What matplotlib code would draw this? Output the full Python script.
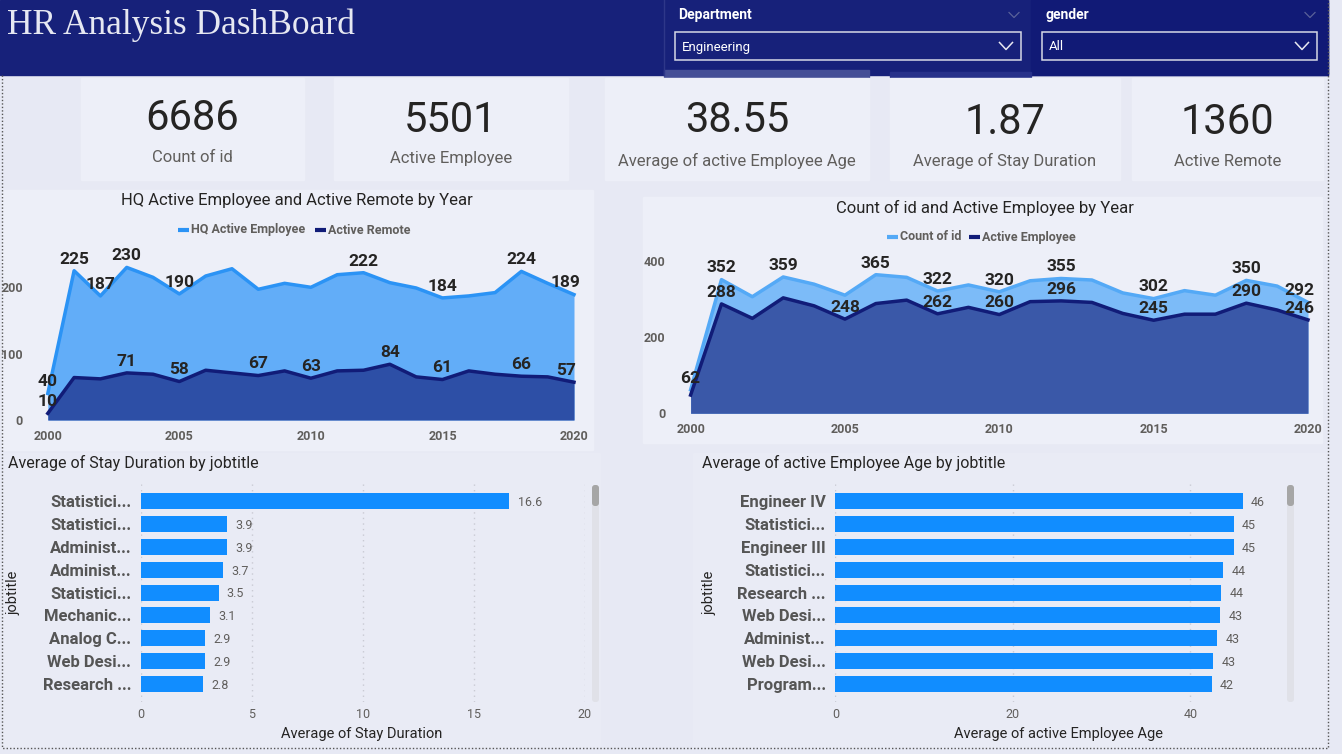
import numpy as np
import matplotlib
matplotlib.use("Agg")
import matplotlib.pyplot as plt
from matplotlib.patches import Rectangle, FancyBboxPatch

plt.rcParams['font.family'] = ['Roboto', 'DejaVu Sans']

# ---- data ----
years = list(range(2000, 2021))
hq_active = [40, 225, 187, 230, 215, 190, 217, 228, 197, 206, 200, 219, 222, 207, 199, 184, 187, 192, 224, 206, 189]
active_remote = [10, 64, 62, 71, 69, 58, 75, 71, 67, 74, 63, 74, 75, 84, 65, 61, 74, 69, 66, 65, 57]
count_id = [62, 352, 307, 359, 340, 311, 365, 358, 322, 338, 320, 349, 355, 351, 317, 302, 323, 311, 350, 335, 292]
active_emp = [48, 288, 250, 304, 283, 248, 289, 298, 262, 279, 260, 294, 296, 292, 263, 245, 261, 261, 290, 272, 246]

hq_label_years = [2000, 2001, 2002, 2003, 2005, 2012, 2015, 2018, 2020]
remote_label_years = [2000, 2003, 2005, 2008, 2010, 2013, 2015, 2018, 2020]
count_label_years = [2000, 2001, 2003, 2006, 2008, 2010, 2012, 2015, 2018, 2020]
active_label_years = [2001, 2005, 2008, 2010, 2012, 2015, 2018, 2020]

stay_titles = ["Statistici...", "Statistici...", "Administ...", "Administ...", "Statistici...",
               "Mechanic...", "Analog C...", "Web Desi...", "Research ..."]
stay_values = [16.6, 3.9, 3.9, 3.7, 3.5, 3.1, 2.9, 2.9, 2.8]

age_titles = ["Engineer IV", "Statistici...", "Engineer III", "Statistici...", "Research ...",
              "Web Desi...", "Administ...", "Web Desi...", "Program..."]
age_values = [45.9, 44.9, 44.9, 43.7, 43.5, 43.4, 43.0, 42.6, 42.4]

kpi_values = ["6686", "5501", "38.55", "1.87", "1360"]
kpi_labels = ["Count of id", "Active Employee", "Average of active Employee Age",
              "Average of Stay Duration", "Active Remote"]

# ---- colours ----
PAGE = '#E7E9F4'
PANEL = '#EDEFF8'
NAVY_BG = '#17217A'
DARK = '#252423'
GREY = '#605E5C'
LIGHT_FILL = '#62ADF8'
LIGHT_LINE = '#2B93F5'
NAVY_FILL = '#2D4FA6'
NAVY_LINE = '#111C78'
BAR = '#118DFF'

W, H = 1342, 754
fig = plt.figure(figsize=(W / 100, H / 100), dpi=100)
fig.patch.set_facecolor(PAGE)


def px_axes(x0, y0, x1, y1):
    return fig.add_axes([x0 / W, 1 - y1 / H, (x1 - x0) / W, (y1 - y0) / H])


bg = fig.add_axes([0, 0, 1, 1], zorder=-5)
bg.set_xlim(0, W)
bg.set_ylim(H, 0)
bg.axis('off')

# header
bg.add_patch(Rectangle((0, 0), 1328, 75, color=NAVY_BG))
bg.add_patch(Rectangle((1031, 0), 297, 75, color='#111A76'))
bg.plot([664, 664], [0, 75], color='#2E3789', lw=1)
bg.add_patch(Rectangle((664, 70), 205, 7, color='#444E96'))
bg.add_patch(Rectangle((890, 72), 141, 5, color='#27318A'))
bg.text(7, 25, "HR Analysis DashBoard", family=['Liberation Serif', 'DejaVu Serif'],
        fontsize=25.5, color='#E6E8F2', va='center', ha='left')


def chevron(x, y, w, h, color, lw):
    bg.plot([x - w / 2, x, x + w / 2], [y - h / 2, y + h / 2, y - h / 2], color=color, lw=lw)


for name, x0, box_w, val in [("Department", 675, 346, "Engineering"), ("gender", 1042, 275, "All")]:
    bg.text(x0 + 3, 15, name, color='white', fontsize=10, fontweight='bold', va='center')
    chevron(x0 + box_w - 7, 15, 10, 5, '#5A6199', 0.9)
    bg.add_patch(Rectangle((x0, 32), box_w, 28, fill=False, edgecolor='#D6D8E6', lw=1.1))
    bg.text(x0 + 7, 47, val, color='white', fontsize=9.5, va='center')
    chevron(x0 + box_w - 15, 46, 13, 7, '#E8E8F0', 1.1)

# KPI cards
cards = [(81, 304), (334, 568), (605, 869), (890, 1120), (1132, 1323)]
val_y = [118, 120, 120, 122, 122]
lab_y = [157, 158, 161, 161, 161]
for (cx0, cx1), v, lab, vy, ly in zip(cards, kpi_values, kpi_labels, val_y, lab_y):
    bg.add_patch(Rectangle((cx0, 78), cx1 - cx0, 102, color=PANEL))
    xc = (cx0 + cx1) / 2
    bg.text(xc, vy, v, fontsize=30, color=DARK, ha='center', va='center')
    bg.text(xc, ly, lab, fontsize=12, color=GREY, ha='center', va='center')

# chart panels
bg.add_patch(Rectangle((2, 190), 591, 260, color=PANEL))
bg.add_patch(Rectangle((643, 197), 679, 246, color=PANEL))
bg.add_patch(Rectangle((2, 453), 598, 294, color='#E9EBF5'))
bg.add_patch(Rectangle((693, 453), 632, 294, color='#E9EBF5'))

# dotted page border
bg.plot([1.5, 1.5, 1328, 1328], [75, 748, 748, 0], color='#555555', lw=1, ls=(0, (1, 1.5)))


def legend(items, y):
    for x0, label, color in items:
        bg.plot([x0, x0 + 11], [y, y], color=color, lw=3, solid_capstyle='butt')
        bg.text(x0 + 13, y, label, color=GREY, fontsize=9, fontweight='bold', va='center')


def style_area(ax, yticks):
    ax.set_facecolor('none')
    for s in ax.spines.values():
        s.set_visible(False)
    ax.set_xlim(2000, 2020)
    ax.set_xticks([2000, 2005, 2010, 2015, 2020])
    ax.set_yticks(yticks)
    ax.tick_params(length=0, labelsize=9, labelcolor=GREY)
    ax.tick_params(axis='y', pad=18)
    ax.tick_params(axis='x', pad=7)
    for t in ax.get_xticklabels() + ax.get_yticklabels():
        t.set_fontweight('bold')


def data_labels(ax, xs, ys, label_years):
    for yr in label_years:
        i = xs.index(yr)
        dx = -6 if yr == 2020 else 0
        ax.annotate(str(ys[i]), (yr, ys[i]), xytext=(dx, 3), textcoords='offset points',
                    ha='center', va='bottom', fontsize=12.5, fontweight='bold', color=DARK,
                    annotation_clip=False)


# ---- top left: HQ Active Employee and Active Remote ----
ax1 = px_axes(47.8, 247.5, 574, 420)
ax1.fill_between(years, hq_active, color=LIGHT_FILL, lw=0)
ax1.plot(years, hq_active, color=LIGHT_LINE, lw=2.5, clip_on=False)
ax1.fill_between(years, active_remote, color=NAVY_FILL, lw=0)
ax1.plot(years, active_remote, color=NAVY_LINE, lw=2.5, clip_on=False)
ax1.set_ylim(0, 260)
style_area(ax1, [0, 100, 200])
data_labels(ax1, years, hq_active, hq_label_years)
data_labels(ax1, years, active_remote, remote_label_years)
bg.text(297, 200, "HQ Active Employee and Active Remote by Year", fontsize=12, color=DARK,
        ha='center', va='center')
legend([(178, "HQ Active Employee", LIGHT_LINE), (315, "Active Remote", NAVY_LINE)], 230)

# ---- top right: Count of id and Active Employee ----
ax2 = px_axes(690.6, 250, 1308, 413.3)
ax2.fill_between(years, count_id, color='#7CBBF8', lw=0)
ax2.plot(years, count_id, color='#54A9F6', lw=2.5, clip_on=False)
ax2.fill_between(years, active_emp, color='#3A58A8', lw=0)
ax2.plot(years, active_emp, color=NAVY_LINE, lw=2.5, clip_on=False)
ax2.set_ylim(0, 430)
style_area(ax2, [0, 200, 400])
data_labels(ax2, years, count_id, count_label_years)
data_labels(ax2, years, active_emp, active_label_years)
bg.text(985, 208, "Count of id and Active Employee by Year", fontsize=12, color=DARK,
        ha='center', va='center')
legend([(887, "Count of id", '#54A9F6'), (969, "Active Employee", NAVY_LINE)], 237)


# ---- bottom bar charts ----
def bar_chart(x0, x1, titles, values, xmax, xticks, fmt):
    ax = px_axes(x0, 484, x1, 702)
    ax.set_facecolor('none')
    pos = np.arange(len(values))
    for xt in xticks:
        ax.axvline(xt, color='#C9CAD3', lw=1, ls=(0, (1, 3)), zorder=0)
    ax.barh(pos, values, height=0.7, color=BAR, zorder=2)
    for p, v in zip(pos, values):
        ax.annotate(fmt(v), (v, p), xytext=(6, -1), textcoords='offset points',
                    va='center', ha='left', fontsize=9, color=GREY)
    ax.set_ylim(8.8, -0.76)
    ax.set_xlim(0, xmax)
    ax.set_yticks(pos)
    ax.set_yticklabels(titles, fontsize=12, fontweight='bold', color='#555555')
    ax.set_xticks(xticks)
    ax.tick_params(length=0)
    ax.tick_params(axis='y', pad=7)
    ax.tick_params(axis='x', pad=4, labelsize=9, labelcolor=GREY)
    for s in ax.spines.values():
        s.set_visible(False)
    return ax


bar_chart(140.8, 584.8, stay_titles, stay_values, 20, [0, 5, 10, 15, 20], lambda v: f"{v:.1f}")
bar_chart(835.5, 1279, age_titles, age_values, 50, [0, 20, 40], lambda v: f"{v:.0f}")

bg.text(8, 463, "Average of Stay Duration by jobtitle", fontsize=11.5, color=DARK, va='center')
bg.text(702, 463, "Average of active Employee Age by jobtitle", fontsize=11.5, color=DARK, va='center')
bg.text(362, 734, "Average of Stay Duration", fontsize=10.5, color=DARK, ha='center', va='center')
bg.text(1058, 734, "Average of active Employee Age", fontsize=10.5, color=DARK, ha='center', va='center')
bg.text(14, 593, "jobtitle", fontsize=10.5, color=DARK, ha='center', va='center', rotation=90)
bg.text(709, 593, "jobtitle", fontsize=10.5, color=DARK, ha='center', va='center', rotation=90)

# scrollbars
for sx in [592, 1287]:
    bg.add_patch(FancyBboxPatch((sx, 485), 7, 217, boxstyle="round,pad=0,rounding_size=3",
                                color='#E0E1E8', lw=0))
    bg.add_patch(FancyBboxPatch((sx, 485), 7, 21, boxstyle="round,pad=0,rounding_size=3",
                                color='#A6A6A6', lw=0))

fig.savefig("out.png", dpi=100, facecolor=fig.get_facecolor())
